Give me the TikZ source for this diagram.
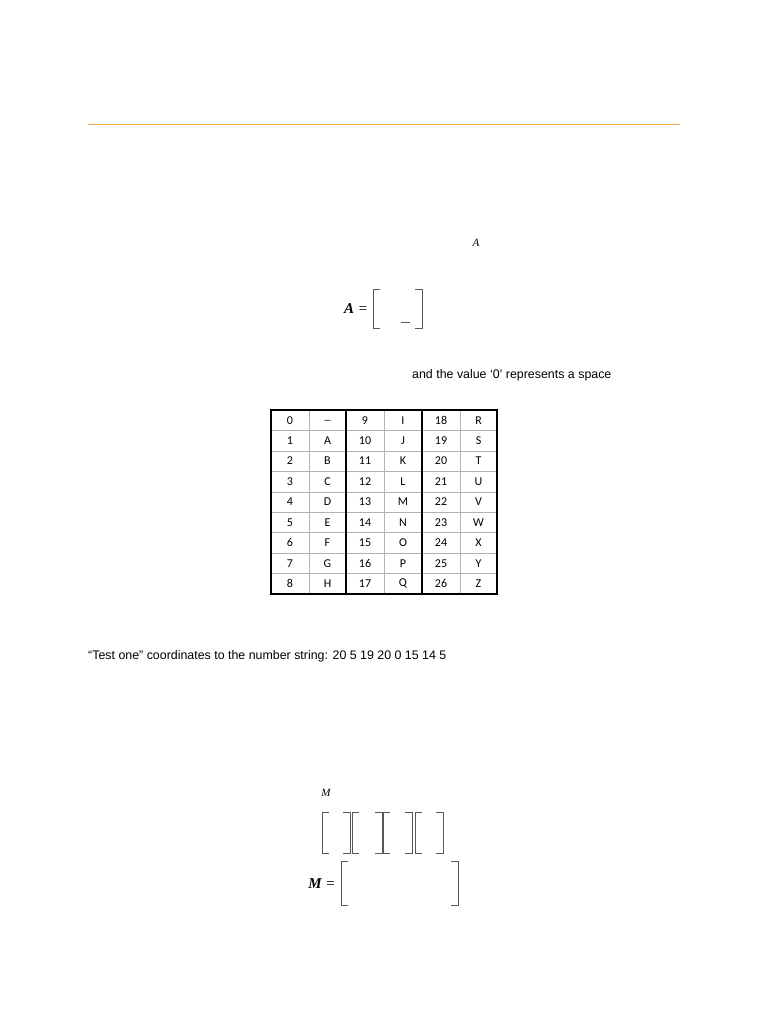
\documentclass[tikz,border=0pt]{standalone}
\usepackage{fontspec}
\setmainfont{Liberation Sans}
\newfontfamily\calfont{Carlito}
\newfontfamily\mathser{Liberation Serif}
\begin{document}
\begin{tikzpicture}[x=1pt,y=-1pt,
  cell/.style={font=\calfont\fontsize{12}{12}\selectfont,anchor=center},
  txt/.style={font=\fontsize{12.4}{13}\selectfont,anchor=west,inner sep=0},
  mth/.style={font=\mathser\itshape\fontsize{15}{15}\selectfont,inner sep=0},
  brk/.style={line width=0.8pt,gray!70!black}]
\useasboundingbox (0,0) rectangle (768,1024);
\draw[color={rgb,255:red,247;green,169;blue,65},line width=0.8pt] (88,124) -- (680,124);
\node[mth,font=\mathser\itshape\fontsize{11}{11}\selectfont] (a1) at (476,243) {A};
\node[mth] (a2) at (356,309) {\textbf{A} =};
\draw[brk] (380,289) -- (373,289) -- (373,328) -- (380,328);
\draw[brk] (415,289) -- (422,289) -- (422,328) -- (415,328);
\draw[brk] (401,322) -- (410,322);
\node[txt] (t1) at (412,375) {and the value `0' represents a space};
\foreach \i in {0,...,9} \draw[gray!60] (271,410+\i*20.44) -- (497,410+\i*20.44);
\foreach \x in {309,384,460} \draw[gray!60] (\x,410) -- (\x,594);
\draw[line width=1.3pt] (271,410) rectangle (497,594);
\draw[line width=1.3pt] (346,410) -- (346,594) (422,410) -- (422,594);
\foreach \ca/\cb/\cc/\cd/\ce/\cf [count=\k from 0] in {0/\_/9/I/18/R,1/A/10/J/19/S,2/B/11/K/20/T,3/C/12/L/21/U,4/D/13/M/22/V,5/E/14/N/23/W,6/F/15/O/24/X,7/G/16/P/25/Y,8/H/17/Q/26/Z}{
  \node[cell] at (290,420.2+\k*20.44) {\ca};
  \node[cell] at (327.5,420.2+\k*20.44) {\cb};
  \node[cell] at (365,420.2+\k*20.44) {\cc};
  \node[cell] at (403,420.2+\k*20.44) {\cd};
  \node[cell] at (441,420.2+\k*20.44) {\ce};
  \node[cell] at (478.5,420.2+\k*20.44) {\cf};
}
\node[txt] (t2) at (88,656) {``Test one'' coordinates to the number string: 20 5 19 20 0 15 14 5};
\node[mth,font=\mathser\itshape\fontsize{11}{11}\selectfont] (m1) at (326,793) {M};
\foreach \l/\r in {322/350,352/382,383/412,415/443}{
  \draw[brk] (\l+7,812) -- (\l,812) -- (\l,853) -- (\l+7,853);
  \draw[brk] (\r-7,812) -- (\r,812) -- (\r,853) -- (\r-7,853);
}
\node[mth] (m2) at (322,884) {\textbf{M} =};
\draw[brk] (348,861) -- (341,861) -- (341,905) -- (348,905);
\draw[brk] (451,861) -- (458,861) -- (458,905) -- (451,905);
\end{tikzpicture}
\end{document}
